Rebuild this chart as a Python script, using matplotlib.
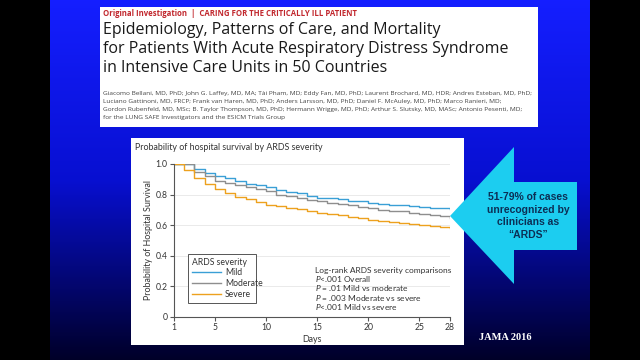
import numpy as np
import matplotlib
matplotlib.use('Agg')
from matplotlib import pyplot as plt
from matplotlib.patches import Rectangle, Polygon

plt.rcParams['font.family'] = ['Lato', 'DejaVu Sans']
plt.rcParams['mathtext.fontset'] = 'custom'
plt.rcParams['mathtext.rm'] = 'Lato'
plt.rcParams['mathtext.it'] = 'Lato:italic'

# survival by day (step after each day)
days = list(range(1, 29))
mild = [1.0, 1.0, 0.97, 0.94, 0.92, 0.91, 0.89, 0.87, 0.86, 0.85, 0.83, 0.82, 0.81, 0.79,
        0.78, 0.775, 0.77, 0.76, 0.755, 0.745, 0.74, 0.735, 0.73, 0.725, 0.72, 0.715, 0.71, 0.705]
moderate = [1.0, 1.0, 0.95, 0.92, 0.89, 0.875, 0.86, 0.85, 0.835, 0.825, 0.80, 0.79, 0.78, 0.765,
            0.755, 0.745, 0.74, 0.73, 0.72, 0.71, 0.70, 0.695, 0.69, 0.68, 0.675, 0.665, 0.66, 0.65]
severe = [1.0, 0.96, 0.91, 0.87, 0.835, 0.81, 0.785, 0.77, 0.75, 0.735, 0.725, 0.715, 0.705, 0.695,
          0.68, 0.67, 0.665, 0.655, 0.645, 0.635, 0.625, 0.62, 0.615, 0.61, 0.60, 0.595, 0.59, 0.58]
series_names = ['Mild', 'Moderate', 'Severe']
series_colors = ['#3a9fd6', '#8e8e8e', '#eda11e']

x_ticks = [1, 5, 10, 15, 20, 25, 28]
y_ticks = [0, 0.2, 0.4, 0.6, 0.8, 1.0]
y_tick_labels = ['0', '0.2', '0.4', '0.6', '0.8', '1.0']

logrank = ['Log-rank ARDS severity comparisons',
           '$P$<.001 Overall',
           '$P$ = .01 Mild vs moderate',
           '$P$ = .003 Moderate vs severe',
           '$P$<.001 Mild vs severe']

title_lines = ['Epidemiology, Patterns of Care, and Mortality',
               'for Patients With Acute Respiratory Distress Syndrome',
               'in Intensive Care Units in 50 Countries']
author_lines = [
    'Giacomo Bellani, MD, PhD; John G. Laffey, MD, MA; Tài Pham, MD; Eddy Fan, MD, PhD; Laurent Brochard, MD, HDR; Andres Esteban, MD, PhD;',
    'Luciano Gattinoni, MD, FRCP; Frank van Haren, MD, PhD; Anders Larsson, MD, PhD; Daniel F. McAuley, MD, PhD; Marco Ranieri, MD;',
    'Gordon Rubenfeld, MD, MSc; B. Taylor Thompson, MD, PhD; Hermann Wrigge, MD, PhD; Arthur S. Slutsky, MD, MASc; Antonio Pesenti, MD;',
    'for the LUNG SAFE Investigators and the ESICM Trials Group']

OPEN = ['Open Sans', 'DejaVu Sans']


def main():
    fig = plt.figure(figsize=(6.4, 3.6), dpi=100, facecolor='black')

    # slide background, pixel coordinates
    bg = fig.add_axes([0, 0, 1, 1])
    bg.set_xlim(0, 640)
    bg.set_ylim(360, 0)
    bg.axis('off')
    t = np.linspace(0, 1, 256)
    top = np.array([0.08, 0.12, 1.0])
    mid = np.array([0.03, 0.06, 0.82])
    bot = np.array([0.0, 0.0, 0.16])
    grad = np.where(t[:, None] < 0.5,
                    top + (mid - top) * (t[:, None] / 0.5),
                    mid + (bot - mid) * ((t[:, None] - 0.5) / 0.5))
    bg.imshow(grad[:, None, :], extent=[50, 590, 360, 0], aspect='auto')

    # paper title box
    bg.add_patch(Rectangle((100, 7), 438, 120, facecolor='white', edgecolor='none'))
    bg.text(103, 13, 'Original Investigation  |  CARING FOR THE CRITICALLY ILL PATIENT',
            family=OPEN, color='#c1272d', fontsize=5.6, fontweight='bold', va='center')
    for i, line in enumerate(title_lines):
        bg.text(103, 30 + i * 19, line, family=OPEN, color='#1a1a1a', fontsize=11.5, va='center')
    for i, line in enumerate(author_lines):
        bg.text(103, 93 + i * 8, line, family=OPEN, color='#444444', fontsize=4.65, va='center')

    # chart box
    bg.add_patch(Rectangle((131, 138), 333, 207, facecolor='white', edgecolor='none'))
    bg.text(135, 148, 'Probability of hospital survival by ARDS severity',
            color='#333333', fontsize=6.4, va='center')

    # arrow and note
    arrow = [(450, 216), (514, 147), (514, 182), (577, 182), (577, 250), (514, 250), (514, 284)]
    bg.add_patch(Polygon(arrow, closed=True, facecolor='#1ccdf0', edgecolor='none'))
    bg.text(528, 216, '51-79% of cases\nunrecognized by\nclinicians as\n\u201cARDS\u201d',
            family=['Liberation Sans', 'DejaVu Sans'], fontweight='bold', fontsize=7.5,
            color='#0c2f55', ha='center', va='center', linespacing=1.3)
    bg.text(505, 337, 'JAMA 2016', family=['Liberation Serif', 'DejaVu Serif'],
            fontweight='bold', fontsize=7.5, color='white', ha='center', va='center')

    # survival chart
    ax = fig.add_axes([174 / 640, 1 - 317 / 360, 276 / 640, 153 / 360])
    ax.set_facecolor('none')
    for vals, name, col in zip([mild, moderate, severe], series_names, series_colors):
        ax.plot(days, vals, drawstyle='steps-post', color=col, lw=1.0, label=name)
    ax.set_xlim(1, 28)
    ax.set_ylim(0, 1.0)
    ax.set_xticks(x_ticks)
    ax.set_yticks(y_ticks)
    ax.set_yticklabels(y_tick_labels)
    for yv in y_ticks[1:]:
        ax.axhline(yv, color='#e6e6e6', lw=0.6, zorder=0)
    for s in ['top', 'right']:
        ax.spines[s].set_visible(False)
    for s in ['left', 'bottom']:
        ax.spines[s].set_color('#555555')
        ax.spines[s].set_linewidth(0.8)
    ax.tick_params(colors='#555555', labelcolor='#333333', labelsize=6.2, length=3, width=0.8, pad=1.5)
    ax.set_xlabel('Days', fontsize=6.4, color='#333333', labelpad=2)
    ax.set_ylabel('Probability of Hospital Survival', fontsize=6.4, color='#333333', labelpad=2)

    leg = ax.legend(title='ARDS severity', loc='lower left',
                    bbox_to_anchor=(0.036, 0.065, 0.276, 0.295), mode='expand',
                    fontsize=6.2, title_fontsize=6.2, handlelength=3.3, handletextpad=0.5,
                    labelspacing=0.2, borderpad=0.45, fancybox=False, framealpha=1,
                    edgecolor='#555555', alignment='left')
    leg.get_frame().set_linewidth(0.7)
    for txt in leg.get_texts():
        txt.set_color('#333333')
    leg.get_title().set_color('#333333')

    for i, line in enumerate(logrank):
        ax.text(14.8, 0.307 - i * 0.06, line, fontsize=6.0, color='#333333', va='center')

    fig.savefig('out.png', dpi=100, facecolor='black')


if __name__ == '__main__':
    main()
